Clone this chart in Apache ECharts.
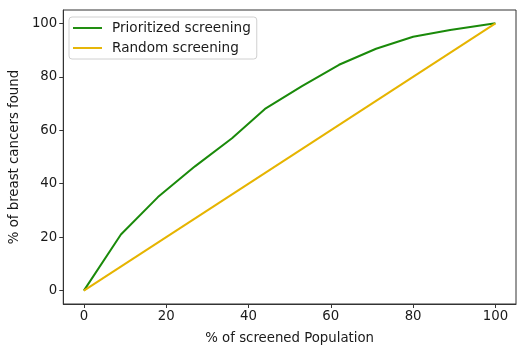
<!DOCTYPE html>
<html><head><meta charset="utf-8">
<script src="https://cdn.jsdelivr.net/npm/echarts@6/dist/echarts.min.js"></script>
<style>html,body{margin:0;padding:0;background:#fff}#c{width:525px;height:355px}</style>
</head><body><div id="c"></div>
<script>
const prioX = [0, 9, 18, 27, 36, 44, 53, 62, 71, 80, 89, 100];
const prioY = [0, 21, 35, 46.5, 57, 68, 76.5, 84.5, 90.5, 95, 97.5, 100];
const randX = [0, 100];
const randY = [0, 100];
const tickVals = [0, 20, 40, 60, 80, 100];
const seriesNames = ['Prioritized screening', 'Random screening'];

const font = 'DejaVu Sans';
const chart = echarts.init(document.getElementById('c'));
function axis(name, pos) {
  return {
    type: 'value', min: -5, max: 105, name: name, nameLocation: 'middle',
    nameGap: pos === 'x' ? 28 : 40,
    nameTextStyle: {fontFamily: font, fontSize: 13.3, color: '#1a1a1a'},
    axisLine: {show: true, onZero: false, lineStyle: {color: '#333', width: 1}},
    axisTick: {show: true, length: 4, lineStyle: {color: '#333'}, customValues: tickVals},
    axisLabel: {fontFamily: font, fontSize: 13.3, color: '#1a1a1a', margin: 6, customValues: tickVals},
    splitLine: {show: false}
  };
}
chart.setOption({
  animation: false,
  backgroundColor: '#fff',
  grid: {left: 62, right: 9, top: 10, bottom: 51, show: true, borderColor: '#333', borderWidth: 1},
  xAxis: axis('% of screened Population', 'x'),
  yAxis: axis('% of breast cancers found', 'y'),
  legend: {
    left: 69, top: 17, orient: 'vertical', itemGap: 6, itemWidth: 29, itemHeight: 14,
    padding: [4, 6, 4, 4], borderColor: '#d0d0d0', borderWidth: 1, borderRadius: 3,
    textStyle: {fontFamily: font, fontSize: 13.6, color: '#1a1a1a', padding: [0, 0, 0, 5]},
    data: seriesNames.map(n => ({name: n, icon: 'path://M0,6 L30,6 L30,8 L0,8 Z'}))
  },
  series: [
    {name: seriesNames[0], type: 'line', data: prioX.map((x, i) => [x, prioY[i]]),
     showSymbol: false, lineStyle: {color: '#1a8a0a', width: 2}, itemStyle: {color: '#1a8a0a'}},
    {name: seriesNames[1], type: 'line', data: randX.map((x, i) => [x, randY[i]]),
     showSymbol: false, lineStyle: {color: '#e6b400', width: 2}, itemStyle: {color: '#e6b400'}}
  ]
});
</script></body></html>
